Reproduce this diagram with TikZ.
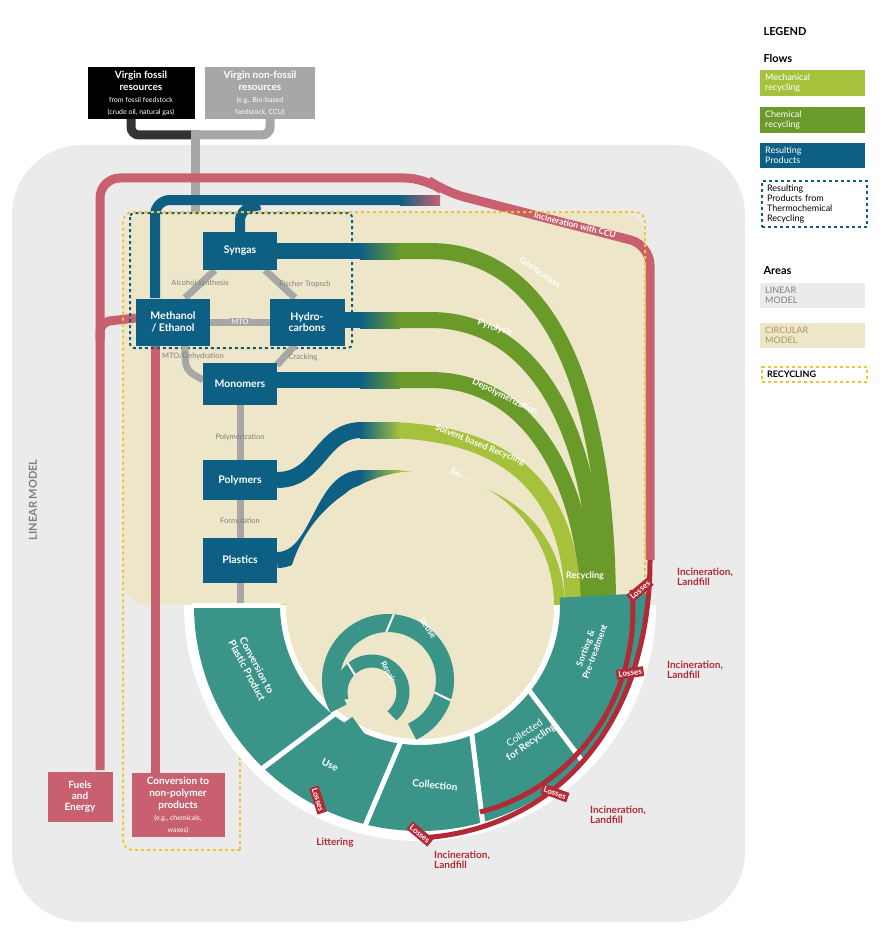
\documentclass[tikz,border=0pt]{standalone}
\usepackage{fontspec}
\setmainfont{Lato}
\usetikzlibrary{calc}
\definecolor{bl}{HTML}{0E5F84}
\definecolor{pipe}{HTML}{C8606F}
\definecolor{loss}{HTML}{B32A36}
\definecolor{gr}{HTML}{6A9A2A}
\definecolor{lime}{HTML}{A6C23C}
\definecolor{beige}{HTML}{EEE6C9}
\definecolor{lgrey}{HTML}{EBEBEB}
\definecolor{tealc}{HTML}{3A9488}
\definecolor{yel}{HTML}{F2C530}
\definecolor{gry}{HTML}{A7A7A7}
\definecolor{olive}{HTML}{A8975A}
\newcommand\bigf{\bfseries\fontsize{10}{11}\selectfont}
\newcommand\smallf{\mdseries\fontsize{7}{8}\selectfont}
\begin{document}
\begin{tikzpicture}[x=1pt,y=-1pt,
 bbox/.style={fill=bl,text=white,font=\bfseries\fontsize{10.5}{11.5}\selectfont,align=center,inner sep=1pt},
 lbl/.style={font=\fontsize{7.5}{8}\selectfont,text=gray},
 flowlbl/.style={font=\bfseries\fontsize{9}{10}\selectfont,text=white},
 redt/.style={font=\bfseries\fontsize{10}{10}\selectfont,text=loss,align=left},
 losstag/.style={fill=loss,text=white,font=\bfseries\fontsize{8}{9}\selectfont,inner sep=2pt},
 gpipe/.style={draw=gry,line width=9pt},
 rpipe/.style={draw=pipe,line width=9pt},
 bpipe/.style={draw=bl,line width=10pt},
 leg/.style={minimum width=105pt,text width=95pt,align=left,font=\fontsize{9}{10}\selectfont,inner sep=4pt,anchor=north west},
 rlabel/.style={text=white,font=\bfseries\fontsize{10}{11}\selectfont,align=center}]
\useasboundingbox (0,0) rectangle (888,936);
\fill[white] (0,0) rectangle (888,936);
% linear area
\fill[lgrey,rounded corners=70pt] (12,145) rectangle (745,922);
\node[rotate=90,font=\bfseries\fontsize{11}{11}\selectfont,text=gray] (lin) at (33,500) {LINEAR MODEL};
% beige circular area
\fill[beige,rounded corners=25pt] (123,212) rectangle (645,605);
\coordinate (c) at (420,605);
% top sources
\node[fill=black,text=white,minimum width=107pt,minimum height=50pt,align=center] (vf) at (141,93) {\bigf Virgin fossil\\\bigf resources\\\smallf from fossil feedstock\\\smallf (crude oil, natural gas)};
\node[fill=gry,text=white,minimum width=110pt,minimum height=50pt,align=center] (vn) at (260,93) {\bigf Virgin non-fossil\\\bigf resources\\\smallf (e.g., Bio-based\\\smallf feedstock, CCU)};
\draw[line width=9pt,black!80,rounded corners=8pt] ($(vf.south)+(-10,0)$) |- (195,135);
\draw[gpipe,rounded corners=8pt] ($(vn.south)+(10,0)$) |- (195,135);
\draw[gpipe] (195,130) -- (195,212);
% red pipes
\draw[rpipe,rounded corners=20pt] (100,770) -- (100,178) -- (425,178) -- (445,192) -- (650,245) -- (650,560);
\draw[rpipe,rounded corners=10pt] (100,340) -- (100,322) -- (136,318);
\draw[rpipe] (155,345) -- (155,775);
% blue pipes
\draw[bpipe,rounded corners=15pt] (155,298) -- (155,200) -- (420,200);
\draw[bpipe,rounded corners=10pt] (240,232) -- (240,210) -- (260,205);
\shade[left color=bl,right color=pipe] (400,195) rectangle (440,205);
\node[rotate=-14,font=\bfseries\fontsize{8.5}{9}\selectfont,text=white] (ccu) at (575,225) {Incineration with CCU};
% green flows
\foreach \y/\ex/\col in {251/608/gr,320/598/gr,380/588/gr}{
 \draw[\col,line width=16pt] (380,\y) -- (430,\y) .. controls (540,\y) and (\ex,\y+120) .. (\ex,610);
 \shade[left color=bl,right color=\col] (360,\y-8) rectangle (400,\y+8);
}
\draw[lime,line width=16pt] (380,430) .. controls (520,430) and (573,500) .. (573,610);
\draw[lime,line width=16pt] (380,478) .. controls (500,478) and (557,530) .. (557,610);
\draw[bl,line width=16pt] (277,251) -- (362,251);
\draw[bl,line width=16pt] (345,320) -- (362,320);
\draw[bl,line width=16pt] (277,380) -- (362,380);
\draw[bl,line width=16pt] (277,480) .. controls (320,480) and (320,430) .. (362,430);
\shade[left color=bl,right color=lime] (360,422) rectangle (400,438);
\draw[bl,line width=16pt] (277,560) .. controls (320,560) and (320,478) .. (362,478);
\shade[left color=bl,right color=lime] (360,470) rectangle (400,486);
\node[flowlbl,rotate=-35] (gas) at (540,272) {Gasification};
\node[flowlbl,rotate=-18] (pyr) at (495,328) {Pyrolysis};
\node[flowlbl,rotate=-26] (dep) at (505,397) {Depolymerization};
\node[flowlbl,rotate=-22] (sol) at (480,445) {Solvent based Recycling};
\node[flowlbl,rotate=-38] (mec) at (485,497) {Mechanical Recycling};
% dashed boxes
\draw[bl,dashed,line width=2pt,rounded corners=4pt] (130,213) rectangle (352,348);
\draw[yel,dashed,line width=2pt,rounded corners=10pt] (240,850) -- (123,850) -- (123,212) -- (645,212) -- (645,595);
\draw[yel,dashed,line width=2pt] (205,605) -- (545,605);
\draw[yel,dashed,line width=2pt] (240,850) -- (240,700);
% grey arrows
\draw[gpipe,line width=7pt] (215,270) -- (185,298);
\draw[gpipe,line width=7pt] (265,270) -- (295,298);
\draw[gpipe,line width=7pt] (210,322) -- (270,322);
\draw[gpipe,line width=7pt] (185,345) .. controls (185,370) .. (203,380);
\draw[gpipe,line width=7pt] (295,345) -- (277,365);
\draw[gpipe,line width=7pt] (240,405) -- (240,460);
\draw[gpipe,line width=7pt] (240,500) -- (240,538);
\draw[gpipe,line width=7pt] (240,583) -- (240,630);
% blue boxes
\node[bbox,minimum width=74pt,minimum height=38pt] (syn) at (240,251) {Syngas};
\node[bbox,minimum width=74pt,minimum height=47pt] (meth) at (173,322) {Methanol\\/ Ethanol};
\node[bbox,minimum width=75pt,minimum height=47pt] (hyd) at (307,322) {Hydro-\\carbons};
\node[bbox,minimum width=74pt,minimum height=42pt] (mon) at (240,384) {Monomers};
\node[bbox,minimum width=74pt,minimum height=40pt] (pol) at (240,480) {Polymers};
\node[bbox,minimum width=74pt,minimum height=45pt] (pla) at (240,560) {Plastics};
\node[lbl] (as) at (200,283) {Alcohol synthesis};
\node[lbl] (ft) at (305,284) {Fischer Tropsch};
\node[lbl,fill=gry,text=white,inner sep=1pt] (mto) at (240,322) {MTO};
\node[lbl] (dh) at (193,356) {MTO/Dehydration};
\node[lbl] (ck) at (303,357) {Cracking};
\node[lbl] (pz) at (240,437) {Polymerization};
\node[lbl] (fm) at (240,521) {Formulation};
\node[font=\bfseries\fontsize{12}{13}\selectfont,text=olive] (cm) at (410,545) {CIRCULAR MODEL};
% ring
\fill[white] ($(c)+(180:236)$) arc[start angle=180,end angle=0,radius=236] -- ($(c)+(0:132)$) arc[start angle=0,end angle=180,radius=132] -- cycle;
\fill[tealc] ($(c)+(180:226)$) arc[start angle=180,end angle=-3,radius=226] -- ($(c)+(-3:140)$) arc[start angle=-3,end angle=180,radius=140] -- cycle;
\foreach \a in {128,98,68,38}{\draw[white,line width=5pt] ($(c)+(\a:138)$) -- ($(c)+(\a+6:228)$);}
\draw[white,line width=5pt] ($(c)+(180:140)$) -- ($(c)+(180:228)$);
\fill[beige] (c) circle (134);
\draw[tealc,line width=18pt] ($(388,680)+(150:57)$) arc[start angle=150,end angle=425,radius=57];
\draw[tealc,line width=18pt] (345,722) -- (372,760);
\draw[tealc,line width=13pt] ($(372,692)+(165:31)$) arc[start angle=165,end angle=410,radius=31];
\draw[white,line width=2pt] ($(388,680)+(268:48)$) -- ($(388,680)+(275:66)$);
\draw[white,line width=2pt] ($(388,680)+(375:48)$) -- ($(388,680)+(378:66)$);
\draw[white,line width=2pt] ($(372,692)+(225:24)$) -- ($(372,692)+(230:38)$);
\node[rlabel,rotate=-55,font=\bfseries\fontsize{8.5}{9}\selectfont] (reu) at (428,628) {Reuse};
\node[rlabel,rotate=-60,font=\bfseries\fontsize{8}{9}\selectfont] (rep) at (388,672) {Repair};
\node[rlabel,rotate=-62] (conv) at (252,668) {Conversion to\\Plastic Product};
\node[rlabel,rotate=-25] (use) at (330,765) {Use};
\node[rlabel,rotate=-5] (col) at (435,785) {Collection};
\node[rlabel,rotate=35] (cfr) at (528,738) {\mdseries Collected\\for Recycling};
\node[rlabel,rotate=70,font=\bfseries\fontsize{9}{10}\selectfont] (sor) at (590,650) {Sorting \&\\Pre-treatment};
\node[font=\bfseries\fontsize{9}{9}\selectfont,text=white] (rec) at (585,576) {Recycling};
% losses arcs
\draw[loss,line width=5pt] (650,560) .. controls (650,720) and (560,830) .. (420,838);
\draw[loss,line width=5pt] (632,590) .. controls (642,700) and (570,790) .. (480,812);
\node[losstag,rotate=40] (l1) at (640,590) {Losses};
\node[losstag,rotate=8] (l2) at (630,673) {Losses};
\node[losstag,rotate=-20] (l3) at (555,793) {Losses};
\node[losstag,rotate=-40] (l4) at (420,834) {Losses};
\node[losstag,rotate=-72] (l5) at (318,800) {Losses};
\node[redt] (i1) at (705,577) {Incineration,\\Landfill};
\node[redt] (i2) at (695,670) {Incineration,\\Landfill};
\node[redt] (i3) at (618,815) {Incineration,\\Landfill};
\node[redt] (i4) at (462,860) {Incineration,\\Landfill};
\node[redt] (lit) at (335,843) {Littering};
% bottom-left boxes
\node[fill=pipe,text=white,minimum width=65pt,minimum height=50pt,align=center,font=\bfseries\fontsize{10}{11}\selectfont] (fuel) at (80,797) {Fuels\\and\\Energy};
\node[fill=pipe,text=white,minimum width=93pt,minimum height=60pt,align=center] (npol) at (178,805) {\bigf Conversion to\\\bigf non-polymer\\\bigf products\\\smallf (e.g., chemicals,\\\smallf waxes)};
% legend
\node[font=\bfseries\fontsize{11}{11}\selectfont,anchor=west] (lg) at (760,32) {LEGEND};
\node[font=\bfseries\fontsize{11}{11}\selectfont,anchor=west] (fl) at (760,58) {Flows};
\node[leg,fill=lime,text=white] (l_m) at (760,70) {Mechanical\\recycling};
\node[leg,fill=gr,text=white] (l_c) at (760,107) {Chemical\\recycling};
\node[leg,fill=bl,text=white] (l_r) at (760,143) {Resulting\\Products};
\node[leg,draw=bl,dashed,line width=2pt,text=black] (l_t) at (761,180) {Resulting\\Products from\\Thermochemical\\Recycling};
\node[font=\bfseries\fontsize{11}{11}\selectfont,anchor=west] (ar) at (760,271) {Areas};
\node[leg,fill=lgrey,text=gray] (l_l) at (760,283) {LINEAR\\MODEL};
\node[leg,fill=beige,text=olive] (l_b) at (760,323) {CIRCULAR\\MODEL};
\node[leg,draw=yel,dashed,line width=2pt,text=black,font=\bfseries\fontsize{9}{10}\selectfont] (l_y) at (761,366) {RECYCLING};
\end{tikzpicture}
\end{document}
